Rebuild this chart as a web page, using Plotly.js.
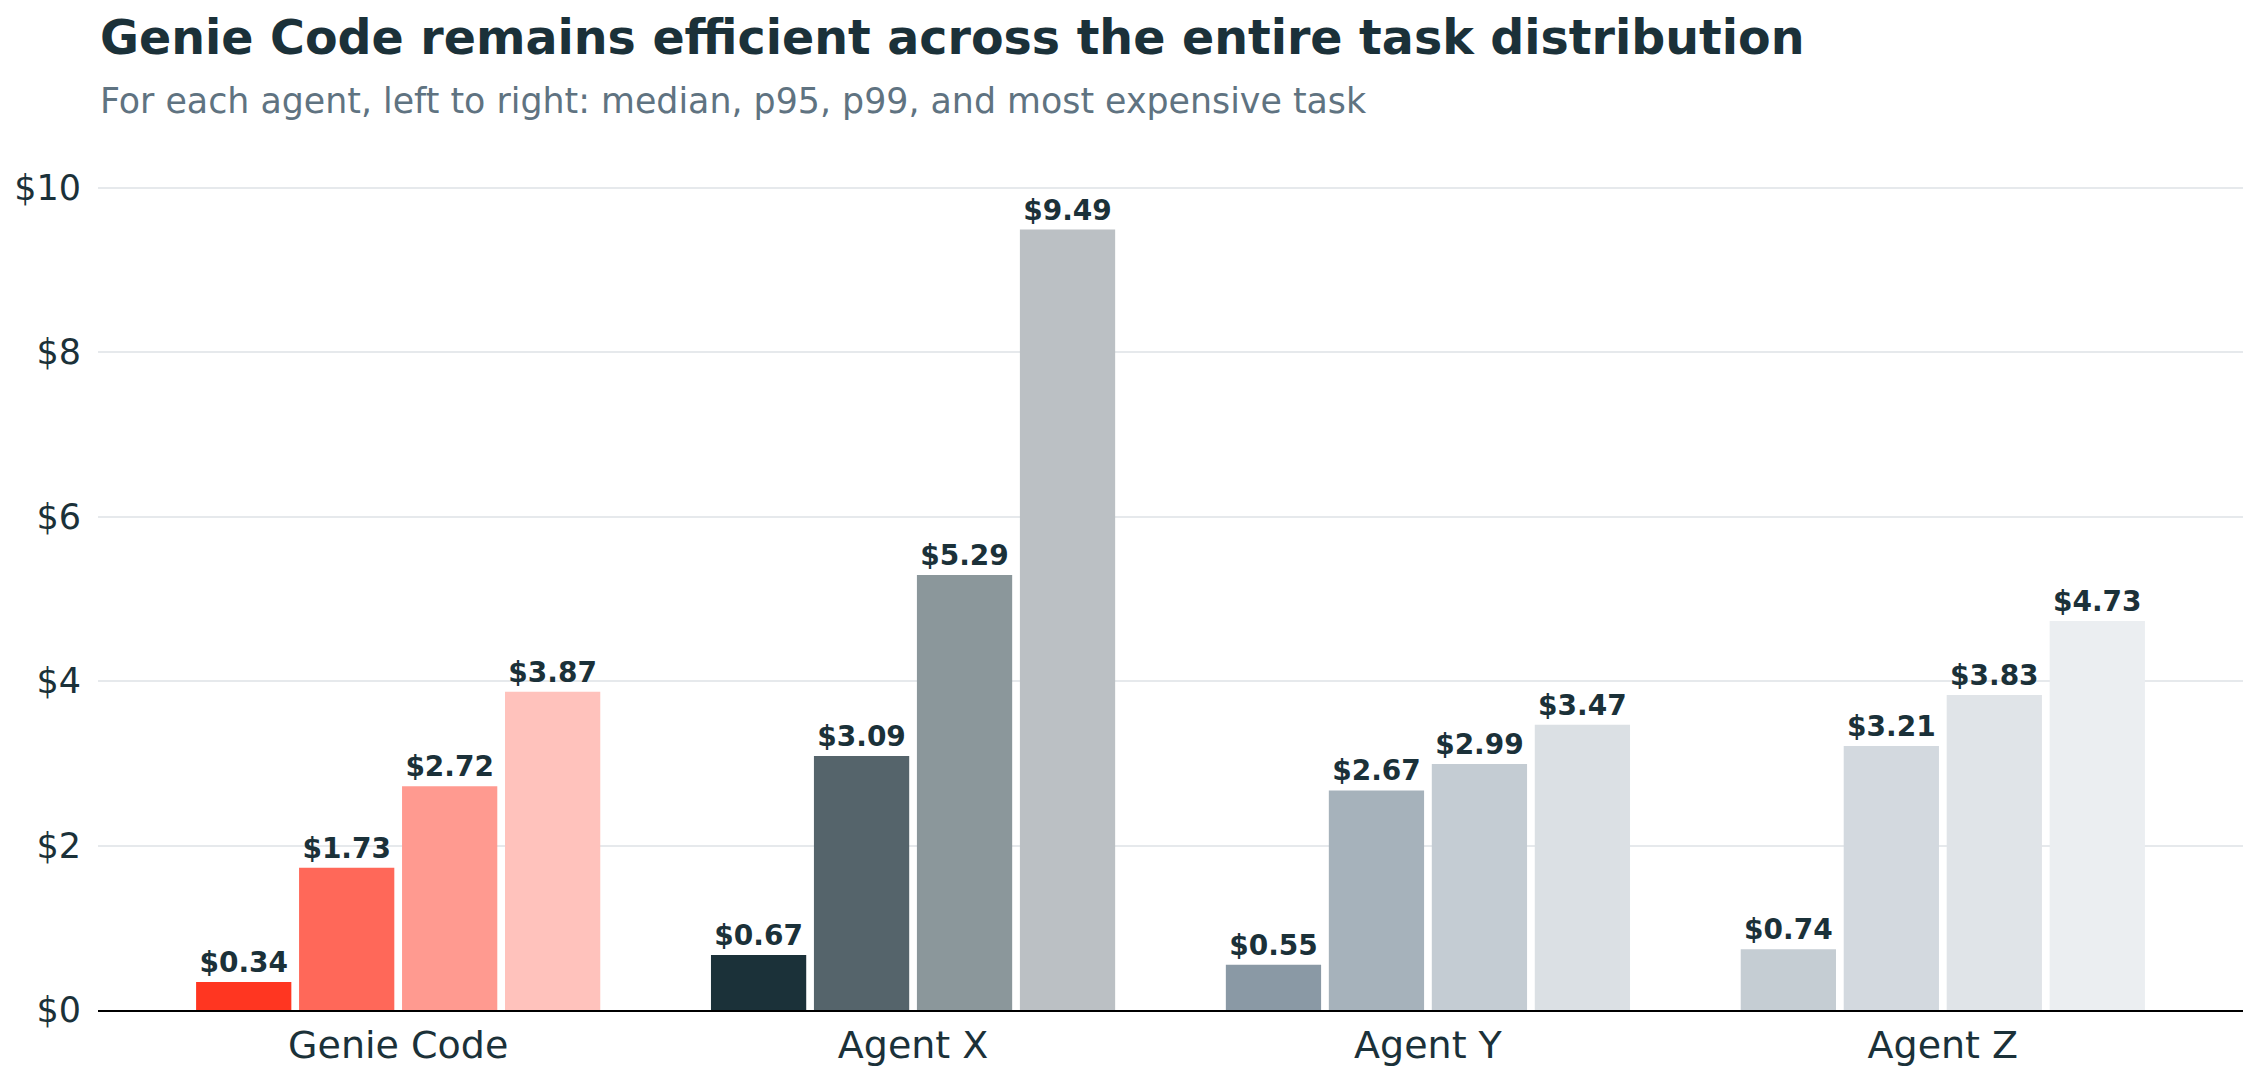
<!DOCTYPE html>
<html>
<head>
<meta charset="utf-8">
<script src="https://cdn.plot.ly/plotly-3.0.1.min.js"></script>
<style>
  html, body { margin: 0; padding: 0; background: #ffffff; }
  #chart { width: 2262px; height: 1079px; }
</style>
</head>
<body>
<div id="chart"></div>
<script>
/* Per-agent cost distribution: median, p95, p99, max task cost */

const agents = ['Genie Code', 'Agent X', 'Agent Y', 'Agent Z'];
const statNames = ['median', 'p95', 'p99', 'max'];

const medianCost = [0.34, 0.67, 0.55, 0.74];
const p95Cost = [1.73, 3.09, 2.67, 3.21];
const p99Cost = [2.72, 5.29, 2.99, 3.83];
const maxCost = [3.87, 9.49, 3.47, 4.73];

// colours per stat, one entry per agent
const medianColors = ['#ff3621', '#1b3139', '#8a99a5', '#c5cdd3'];
const p95Colors = ['#ff6859', '#55646b', '#a6b2bb', '#d3d9df'];
const p99Colors = ['#ff9a90', '#8b979b', '#c4ccd3', '#e0e4e8'];
const maxColors = ['#ffc2bc', '#bbc0c4', '#dbe0e4', '#ebeef1'];

const INK = '#1b3139';
const FONT = "'DejaVu Sans', sans-serif";

const seriesValues = [medianCost, p95Cost, p99Cost, maxCost];
const seriesColors = [medianColors, p95Colors, p99Colors, maxColors];

const traces = seriesValues.map((vals, i) => ({
  type: 'bar',
  name: statNames[i],
  x: agents,
  y: vals,
  marker: { color: seriesColors[i], line: { width: 0 } },
  texttemplate: '<b>$%{y:.2f}</b>',
  textposition: 'outside',
  textfont: { family: FONT, size: 28, color: INK },
  cliponaxis: false,
  hoverinfo: 'skip',
  showlegend: false,
}));

const layout = {
  width: 2262,
  height: 1079,
  paper_bgcolor: '#ffffff',
  plot_bgcolor: '#ffffff',
  font: { family: FONT, color: INK },
  margin: { l: 98, r: 19, t: 163, b: 69 },
  barmode: 'group',
  bargap: 0.2,
  bargroupgap: 0.075,
  showlegend: false,
  xaxis: {
    type: 'category',
    range: [-0.583, 3.583],
    showgrid: false,
    showline: true,
    linecolor: '#000000',
    linewidth: 2,
    ticks: '',
    tickfont: { family: FONT, size: 38, color: INK },
    fixedrange: true,
  },
  yaxis: {
    range: [0, 10.3],
    dtick: 2,
    tick0: 0,
    tickprefix: '$',
    showgrid: true,
    gridcolor: '#e6e9ec',
    gridwidth: 2,
    zeroline: false,
    showline: false,
    ticks: '',
    ticklabelstandoff: 16,
    tickfont: { family: FONT, size: 35, color: INK },
    fixedrange: true,
  },
  annotations: [
    {
      text: '<b>Genie Code remains efficient across the entire task distribution</b>',
      xref: 'paper', yref: 'paper',
      x: 0, y: 1.148,
      xanchor: 'left', yanchor: 'middle',
      showarrow: false,
      font: { family: FONT, size: 47.5, color: INK },
    },
    {
      text: 'For each agent, left to right: median, p95, p99, and most expensive task',
      xref: 'paper', yref: 'paper',
      x: 0, y: 1.073,
      xanchor: 'left', yanchor: 'middle',
      showarrow: false,
      font: { family: FONT, size: 34.8, color: '#5f7381' },
    },
  ],
};

Plotly.newPlot('chart', traces, layout, { staticPlot: true, displayModeBar: false });
</script>
</body>
</html>
